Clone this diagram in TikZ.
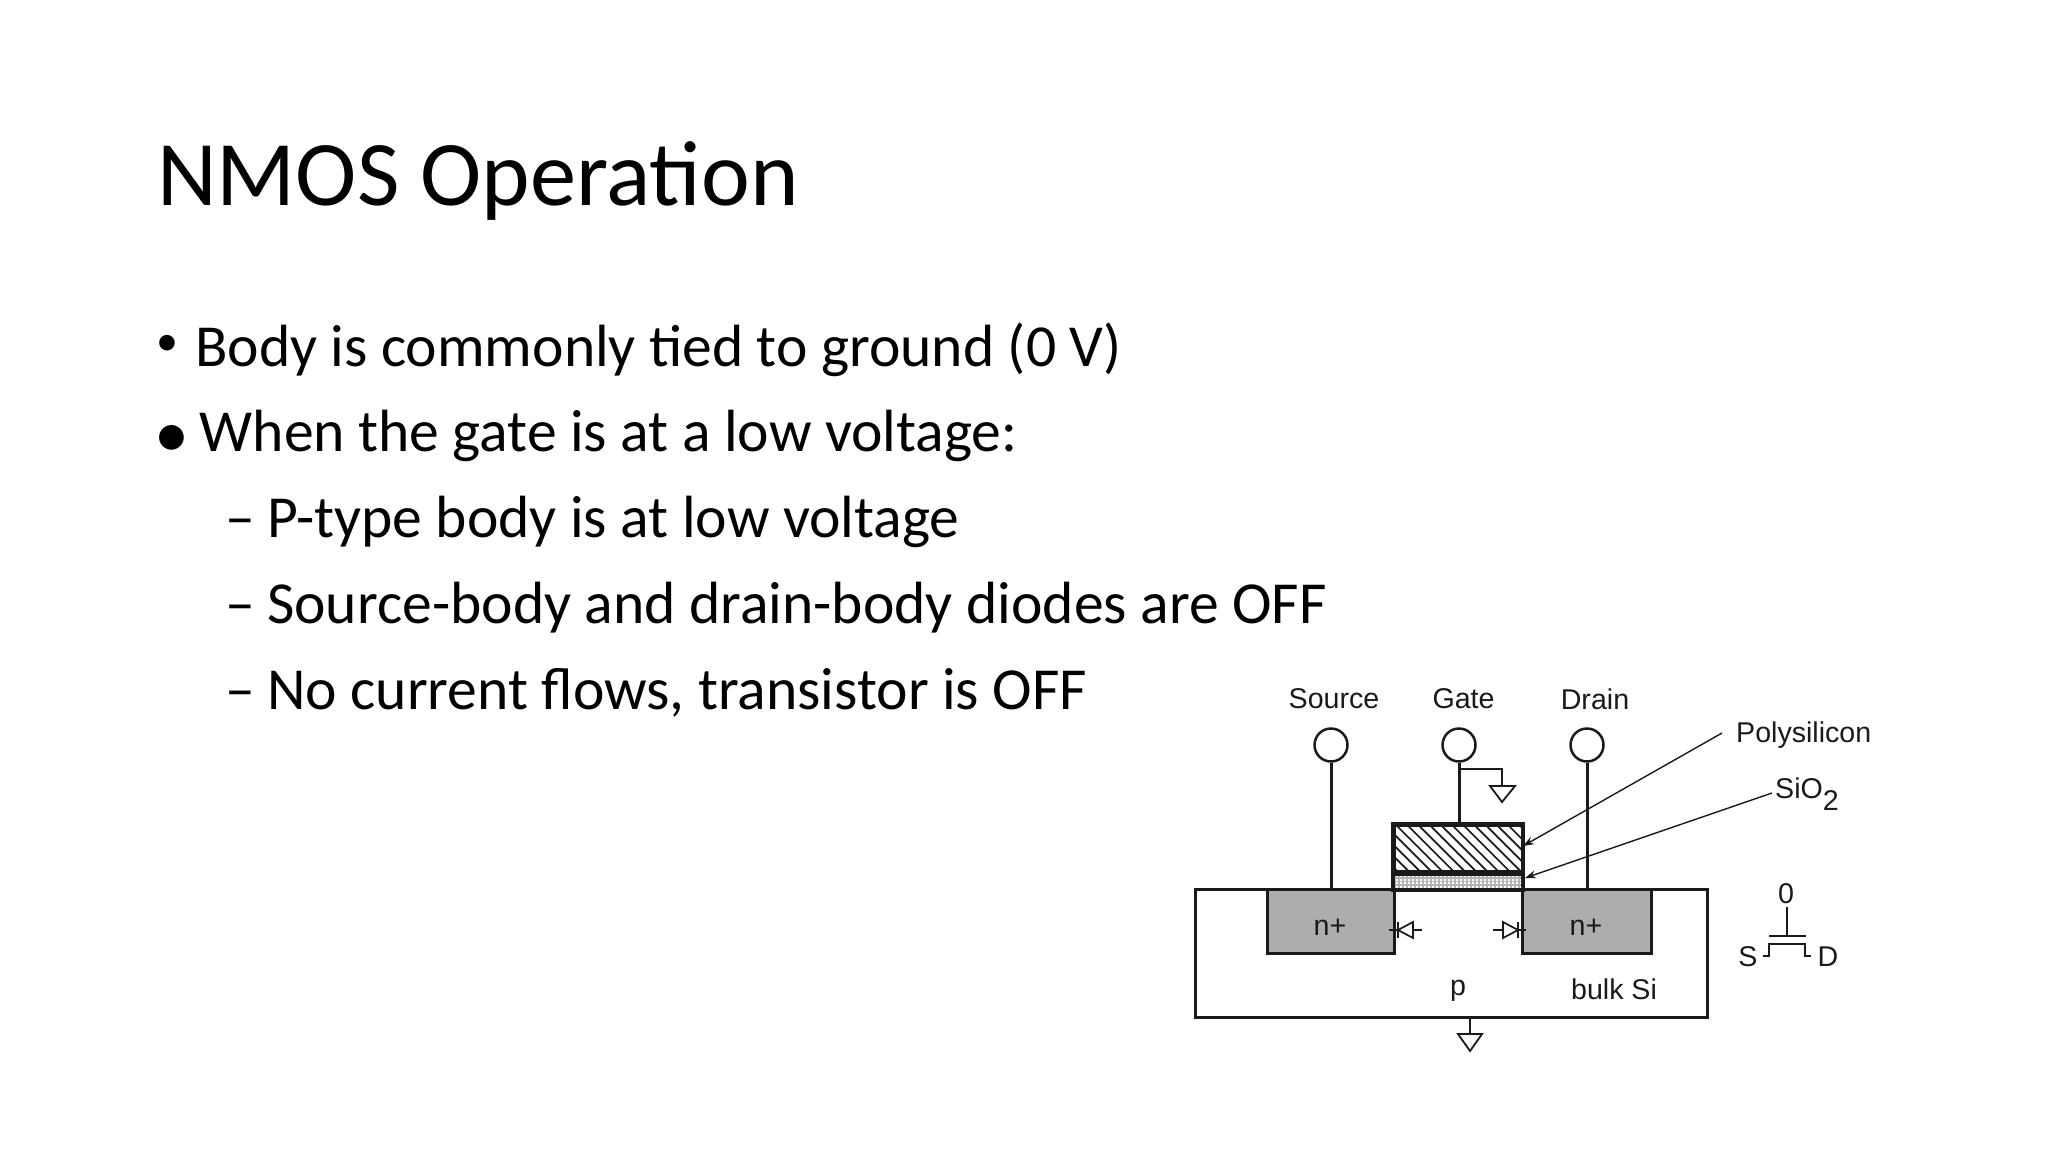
\documentclass[tikz,border=0pt]{standalone}
\usepackage{fontspec}
\setmainfont{Carlito}
\newfontfamily\figfont{Liberation Sans}
\usetikzlibrary{arrows.meta,calc}
\definecolor{ink}{HTML}{1A1A1A}
\definecolor{dopedgray}{HTML}{ADADAD}
\tikzset{
  titletext/.style={anchor=base west,inner sep=0pt,font=\fontsize{92.4}{100}\selectfont},
  bodytext/.style={anchor=base west,inner sep=0pt,font=\fontsize{59.6}{68}\selectfont,text=black},
  figlabel/.style={inner sep=0pt,text=ink,font=\figfont\fontsize{28.6}{32}\selectfont},
  wire/.style={draw=ink,line width=3pt},
  thinwire/.style={draw=ink,line width=1.7pt},
  terminal/.style={circle,draw=ink,line width=2.5pt,fill=white,minimum size=33pt,inner sep=0pt},
  region/.style={rectangle,draw=ink,line width=3pt,inner sep=0pt},
  pointer/.style={draw=ink,line width=1.4pt,-{Stealth[length=11pt,width=8pt]}},
  groundtri/.style={draw=ink,line width=1.8pt,fill=white},
}
\begin{document}
\begin{tikzpicture}[x=1pt,y=-1pt]
\useasboundingbox[fill=white] (0,0) rectangle (2048,1152);
% text
\node[titletext] (title) at (157,205) {NMOS Operation};
\node[bodytext] (b1) at (156.5,355) {\fontsize{44}{60}\selectfont•};
\node[bodytext] (t1) at (195,366) {Body is commonly tied to ground (0 V)};
\node[bodytext] (b2) at (154,457) {\fontsize{70}{60}\selectfont•};
\node[bodytext] (t2) at (199.5,451) {When the gate is at a low voltage:};
\node[bodytext] (d3) at (225,537) {–};
\node[bodytext] (t3) at (267,537) {P-type body is at low voltage};
\node[bodytext] (d4) at (225,623) {–};
\node[bodytext] (t4) at (267,623) {Source-body and drain-body diodes are OFF};
\node[bodytext] (d5) at (225,709) {–};
\node[bodytext] (t5) at (267,709) {No current flows, transistor is OFF};
% substrate and diffusions
\node[region,minimum width=512pt,minimum height=128pt] (bulk) at (1451,953) {};
\node[region,fill=dopedgray,minimum width=127pt,minimum height=64pt] (nl) at (1330.5,921) {};
\node[region,fill=dopedgray,minimum width=129pt,minimum height=64pt] (nr) at (1586.5,921) {};
% polysilicon and oxide
\node[region,fill=white,minimum width=128pt,minimum height=48pt] (poly) at (1458,849) {};
\node[region,fill=white,minimum width=128pt,minimum height=16pt] (oxide) at (1458,881) {};
\begin{scope}
  \clip (1394,825) rectangle (1522,873);
  \foreach \i in {0,...,17}
    \draw[ink,line width=1.7pt] (1340+11.2*\i,825) -- ++(48,48);
\end{scope}
\begin{scope}
  \clip (1395,874) rectangle (1521,888);
  \fill[white!68!ink] (1395,874) rectangle (1521,888);
  \foreach \i in {0,...,31}
    \foreach \j in {0,...,3}
      \fill[white] (1396+4*\i,875+3.6*\j) rectangle ++(2.4,2.2);
\end{scope}
\draw[region,line width=2.4pt] (poly.north west) rectangle (poly.south east);
\draw[region,line width=2.2pt] (oxide.north west) rectangle (oxide.south east);
% terminals
\node[terminal] (src) at (1331,745) {};
\node[terminal] (gat) at (1459,745) {};
\node[terminal] (drn) at (1587,745) {};
\draw[wire] (src.south) -- (src.south |- nl.north);
\draw[wire] (gat.south) -- (gat.south |- poly.north);
\draw[wire] (drn.south) -- (drn.south |- nr.north);
% gate ground
\coordinate (gtap) at (1459,769);
\coordinate (gg) at (1502,786);
\draw[thinwire] (gtap) -| (gg);
\draw[groundtri] (1490,786) -- (1515,786) -- (1502,802) -- cycle;
% body ground
\coordinate (bg) at (1470,1034);
\draw[thinwire] (bg |- bulk.south) -- (bg);
\draw[groundtri] (1458,1034) -- (1482,1034) -- (1470,1051) -- cycle;
% diodes
\draw[thinwire] (1389,930) -- (1398,930) (1413,930) -- (1422,930);
\draw[thinwire] (1398,922) -- (1398,938);
\draw[thinwire] (1398,930) -- (1413,922) -- (1413,938) -- cycle;
\draw[thinwire] (1493,930) -- (1503,930) (1518,930) -- (1526,930);
\draw[thinwire] (1518,922) -- (1518,938);
\draw[thinwire] (1518,930) -- (1503,922) -- (1503,938) -- cycle;
% labels
\node[figlabel] (ls) at (1334,699) {Source};
\node[figlabel] (lg) at (1463.5,699) {Gate};
\node[figlabel] (ld) at (1595,699) {Drain};
\node[figlabel,anchor=west] (lp) at (1736,735) {Polysilicon};
\node[figlabel,anchor=base west] (lo) at (1775,798) {SiO\kern0pt\raisebox{-12pt}{2}};
\node[figlabel] (n1) at (1330,927) {n+};
\node[figlabel] (n2) at (1586,927) {n+};
\node[figlabel] (lpp) at (1458,991) {p};
\node[figlabel] (lb) at (1614,989) {bulk Si};
% pointers
\coordinate (ptip) at (1523,846);
\coordinate (otip) at (1525,878);
\draw[pointer] (1722,733) -- (ptip);
\draw[pointer] (lo.base west) ++(-3,-5) -- (otip);
% symbol
\node[figlabel] (z) at (1786,894) {0};
\node[figlabel] (sS) at (1748,957) {S};
\node[figlabel] (sD) at (1828,957) {D};
\coordinate (gb) at (1787,936);
\draw[thinwire] (z.south) ++(1,3) -- (gb);
\draw[thinwire] (1769,936) -- (1806,936);
\draw[thinwire] (1763,956) -- (1769,956) -- (1769,944) -- (1805,944) -- (1805,956) -- (1811,956);
\end{tikzpicture}
\end{document}
